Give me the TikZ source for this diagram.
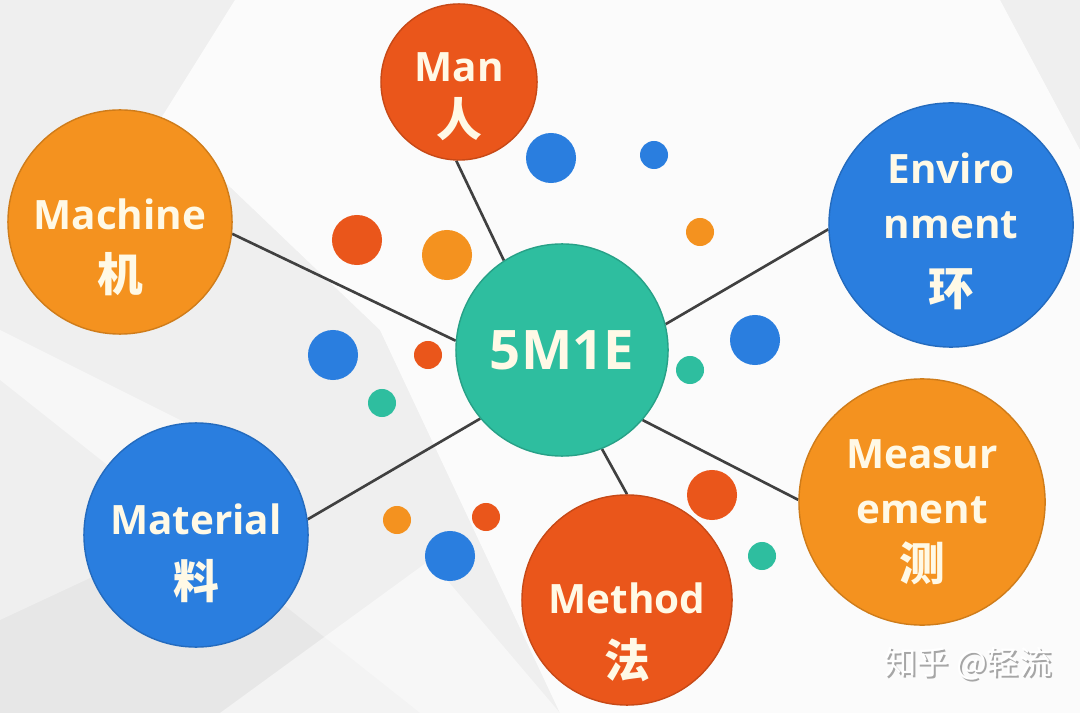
\documentclass[tikz,border=0pt]{standalone}
\usepackage{fontspec}
\setmainfont{Open Sans}
\newfontfamily\cjk{Noto Sans CJK SC}
\pgfdeclarelayer{background}
\pgfsetlayers{background,main}
\definecolor{mOrange}{HTML}{F4921F}
\definecolor{mRed}{HTML}{EA561B}
\definecolor{mBlue}{HTML}{2A7EDF}
\definecolor{mTeal}{HTML}{2EBE9F}
\definecolor{mText}{HTML}{FFF9E6}
\definecolor{paper}{HTML}{EFEFEF}
\newcommand{\zh}[1]{{\cjk\fontsize{13}{15.5}\selectfont #1}}
\newcommand{\topgap}[1]{\rule{0pt}{#1}}
\tikzstyle{ball}=[circle, inner sep=-12pt, text=mText, align=center,
  font=\bfseries\fontsize{11.5}{15.5}\selectfont]
\tikzstyle{dot}=[circle, inner sep=0pt, minimum size=0.28cm]
\tikzstyle{bigdot}=[dot, minimum size=0.5cm]
\tikzstyle{spoke}=[draw, line width=0.75pt, color=black!75]

\begin{document}
\begin{tikzpicture}[x=0.01cm,y=-0.01cm]
  \useasboundingbox (0,0) rectangle (1080,713);

  % the core and the six M/E
  \path (562,350) node (core) [ball, fill=mTeal, draw=mTeal!85!black, minimum size=2.12cm,
    font=\bfseries\fontsize{15.5}{18}\selectfont] {5M1E};
  \path (459,82) node (man) [ball, fill=mRed, draw=mRed!85!black, minimum size=1.56cm]
    {\topgap{16.6pt}Man\\\zh{人}};
  \path (120,222) node (machine) [ball, fill=mOrange, draw=mOrange!85!black, minimum size=2.24cm]
    {\topgap{23.2pt}Machine\\[2pt]\zh{机}};
  \path (951,225) node (env) [ball, fill=mBlue, draw=mBlue!85!black, minimum size=2.44cm]
    {\topgap{12.4pt}Enviro\\nment\\[3.6pt]\zh{环}};
  \path (196,535) node (material) [ball, fill=mBlue, draw=mBlue!85!black, minimum size=2.24cm]
    {\topgap{19.1pt}Material\\[2.5pt]\zh{料}};
  \path (922,502) node (meas) [ball, fill=mOrange, draw=mOrange!85!black, minimum size=2.46cm]
    {\topgap{14pt}Measur\\ement\\[0.7pt]\zh{测}};
  \path (627,600) node (method) [ball, fill=mRed, draw=mRed!85!black, minimum size=2.1cm]
    {\topgap{27.1pt}Method\\[2.5pt]\zh{法}};

  % small dots
  \path (551,158) node (d1) [bigdot, fill=mBlue] {};
  \path (654,155) node (d2) [dot, fill=mBlue] {};
  \path (700,232) node (d3) [dot, fill=mOrange] {};
  \path (357,240) node (d4) [bigdot, fill=mRed] {};
  \path (447,255) node (d5) [bigdot, fill=mOrange] {};
  \path (755,340) node (d6) [bigdot, fill=mBlue] {};
  \path (690,370) node (d7) [dot, fill=mTeal] {};
  \path (333,355) node (d8) [bigdot, fill=mBlue] {};
  \path (428,355) node (d9) [dot, fill=mRed] {};
  \path (382,403) node (d10) [dot, fill=mTeal] {};
  \path (712,495) node (d11) [bigdot, fill=mRed] {};
  \path (762,556) node (d12) [dot, fill=mTeal] {};
  \path (397,520) node (d13) [dot, fill=mOrange] {};
  \path (486,517) node (d14) [dot, fill=mRed] {};
  \path (450,556) node (d15) [bigdot, fill=mBlue] {};

  % watermark
  \path (970,666) node (wmshadow) [text=black!35, font=\cjk\fontsize{9.2}{10}\selectfont] {知乎 @轻流};
  \path (968,664) node (wm) [text=white, font=\cjk\fontsize{9.2}{10}\selectfont] {知乎 @轻流};

  \begin{pgfonlayer}{background}
    \fill [paper] (0,0) rectangle (1080,713);
    \fill [white, opacity=0.8] (235,0) -- (1000,0) -- (1080,150) -- (1080,713) -- (560,713) -- (380,330) -- (160,120) -- cycle;
    \fill [white, opacity=0.5] (0,330) -- (300,480) -- (0,620) -- cycle;
    \fill [black, opacity=0.03] (0,380) -- (420,713) -- (0,713) -- cycle;
    \fill [white, opacity=0.5] (220,713) -- (430,560) -- (560,713) -- cycle;
    \path [spoke] (man.268) -- (core.123);
    \path [spoke] (machine.-6) -- (core.175);
    \path [spoke] (env.182) -- (core.14);
    \path [spoke] (material.8) -- (core.220);
    \path [spoke] (meas.179) -- (core.319);
    \path [spoke] (method.90) -- (core.292);
  \end{pgfonlayer}
\end{tikzpicture}
\end{document}
